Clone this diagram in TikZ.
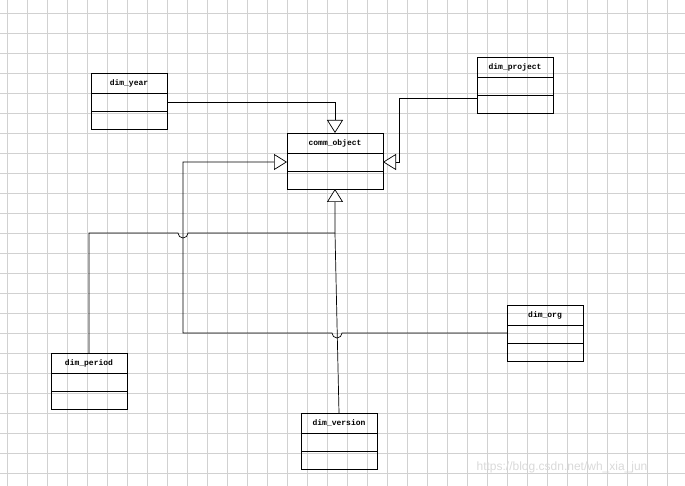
\documentclass[tikz,border=0pt]{standalone}
\usepackage{fontspec}
\newfontfamily\clsfont{Liberation Mono}
\newfontfamily\wmfont{Liberation Sans}
\usetikzlibrary{arrows.meta,positioning}

\tikzset{
  head/.style={draw,line width=0.9pt,minimum width=76pt,minimum height=20pt,inner sep=0pt,outer sep=0pt,font=\clsfont\bfseries\fontsize{8}{9}\selectfont},
  part/.style={draw,line width=0.9pt,minimum width=76pt,minimum height=18pt,inner sep=0pt,outer sep=0pt},
  gen/.style={line width=0.7pt,-{Triangle[open,length=13pt,width=16pt,fill=white]}},
  link/.style={line width=0.7pt}
}

\begin{document}
\begin{tikzpicture}[x=1pt,y=-1pt]
\useasboundingbox (0,0) rectangle (685,486);
% grid
\foreach \gx in {7,27,...,687} \draw[black!18,line width=0.6pt] (\gx,0) -- (\gx,486);
\foreach \gy in {13,33,...,486} \draw[black!18,line width=0.6pt] (0,\gy) -- (685,\gy);

% classes
\node[head,minimum width=96pt] (comm) at (335,143) {comm\_object};
\node[part,minimum width=96pt,below=0pt of comm] (comm1) {};
\node[part,minimum width=96pt,below=0pt of comm1] (comm2) {};
\node[head] (year) at (129,83) {dim\_year};
\node[part,below=0pt of year] (year1) {};
\node[part,below=0pt of year1] (year2) {};
\node[head] (proj) at (515,67) {dim\_project};
\node[part,below=0pt of proj] (proj1) {};
\node[part,below=0pt of proj1] (proj2) {};
\node[head] (org) at (545,315) {dim\_org};
\node[part,below=0pt of org] (org1) {};
\node[part,below=0pt of org1] (org2) {};
\node[head] (period) at (89,363) {dim\_period};
\node[part,below=0pt of period] (period1) {};
\node[part,below=0pt of period1] (period2) {};
\node[head] (version) at (339,423) {dim\_version};
\node[part,below=0pt of version] (version1) {};
\node[part,below=0pt of version1] (version2) {};

% generalisations
\coordinate (meet) at (335,233);
\draw[gen] (year1.east) -| (comm.north);
\draw[gen] (proj1.west |- 0,98) -| (399,162) -- (comm1.east);
\draw[link] (period.north) |- (178,233) arc[start angle=180,end angle=0,radius=5] -- (meet);
\draw[gen] (version.north) -- (meet) -- (comm2.south);
\draw[gen] (org1.west |- 0,333) -- (342,333) arc[start angle=0,end angle=180,radius=5] -- (183,333) |- (comm1.west);

\node[text=black!15,font=\wmfont\fontsize{12}{12}\selectfont] (mark) at (562,467) {https://blog.csdn.net/wh\_xia\_jun};
\end{tikzpicture}
\end{document}
